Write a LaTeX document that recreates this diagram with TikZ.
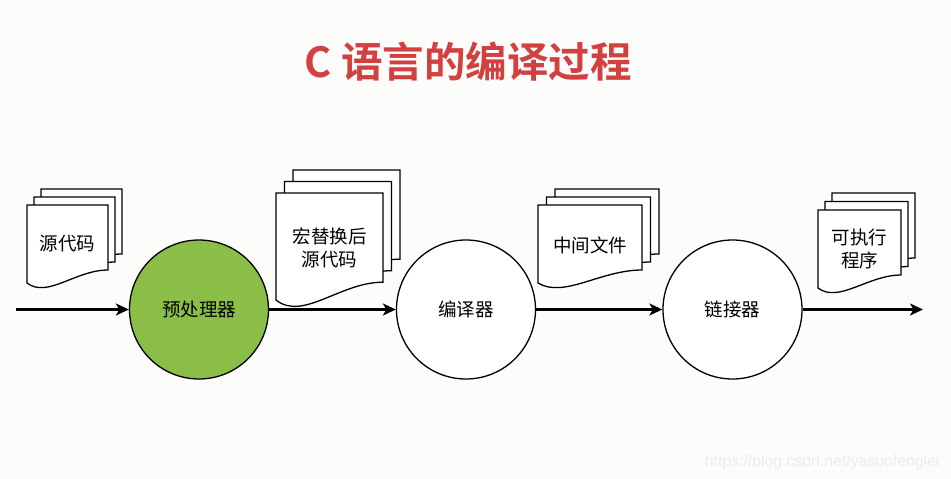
\documentclass[tikz,border=0pt]{standalone}
\usepackage{fontspec}
\newfontfamily\cjk{Noto Sans CJK SC}
\newfontfamily\cjkbold{Noto Sans CJK SC Bold}
\newfontfamily\wmfont{Liberation Sans}
\usetikzlibrary{arrows.meta}
\definecolor{bgc}{RGB}{252,252,251}
\definecolor{titlered}{RGB}{210,64,64}
\definecolor{procgreen}{RGB}{139,190,70}
\definecolor{wmgray}{RGB}{236,236,236}
% document shape: x, y (top-left), w, h (left-bottom height)
\newcommand\docpath[4]{%
  \filldraw[docline] (#1,#2) -- ++(#3,0) -- ++(0,{#4-#4/6})
    .. controls ++({-0.4*#3},0) and ({#1+0.25*#3},{#2+#4+#4/5}) .. (#1,{#2+#4}) -- cycle;}
\newcommand\docstack[6]{% x y w h dx dy
  \docpath{#1+2*#5}{#2-2*#6}{#3}{#4}
  \docpath{#1+#5}{#2-#6}{#3}{#4}
  \docpath{#1}{#2}{#3}{#4}}
\begin{document}
\begin{tikzpicture}[x=1pt,y=-1pt,
  docline/.style={draw=black,fill=white,line width=1.3pt},
  proc/.style={circle,draw=black,line width=1.3pt,minimum size=139pt,inner sep=0pt,font=\cjk\fontsize{18.5}{22}\selectfont},
  doctext/.style={align=center,font=\cjk\fontsize{18.5}{22.5}\selectfont},
  flow/.style={line width=2.1pt,-{Stealth[length=13pt,width=12pt,inset=3.5pt]}}]
\useasboundingbox[fill=bgc] (0,0) rectangle (951,479);
% title
\node[text=titlered,font=\cjkbold\fontsize{41.5}{44}\selectfont] (title) at (468,62) {C 语言的编译过程};
% documents
\docstack{27}{205}{81}{78}{7}{8}
\node[doctext] (d1) at (67.5,244) {源代码};
\docstack{276}{193}{107}{107}{8.5}{11.5}
\node[doctext] (d2) at (329.5,248) {宏替换后\\源代码};
\docstack{538}{205}{104}{78}{8.5}{8}
\node[doctext] (d3) at (590,245) {中间文件};
\docstack{818}{210}{83}{78}{7}{8.5}
\node[doctext] (d4) at (859.5,249) {可执行\\程序};
% processors
\node[proc,fill=procgreen] (p1) at (199,309.5) {预处理器};
\node[proc,fill=white] (p2) at (466,309.5) {编译器};
\node[proc,fill=white] (p3) at (732.5,309.5) {链接器};
\coordinate (start) at (16,309.5);
\coordinate (end) at (923,309.5);
\draw[flow] (start) -- (p1);
\draw[flow] (p1) -- (p2);
\draw[flow] (p2) -- (p3);
\draw[flow] (p3) -- (end);
% watermark
\node[text=wmgray,font=\wmfont\fontsize{15.8}{18}\selectfont,anchor=east] (wm) at (943,462) {https://blog.csdn.net/yasuofenglei};
\end{tikzpicture}
\end{document}
